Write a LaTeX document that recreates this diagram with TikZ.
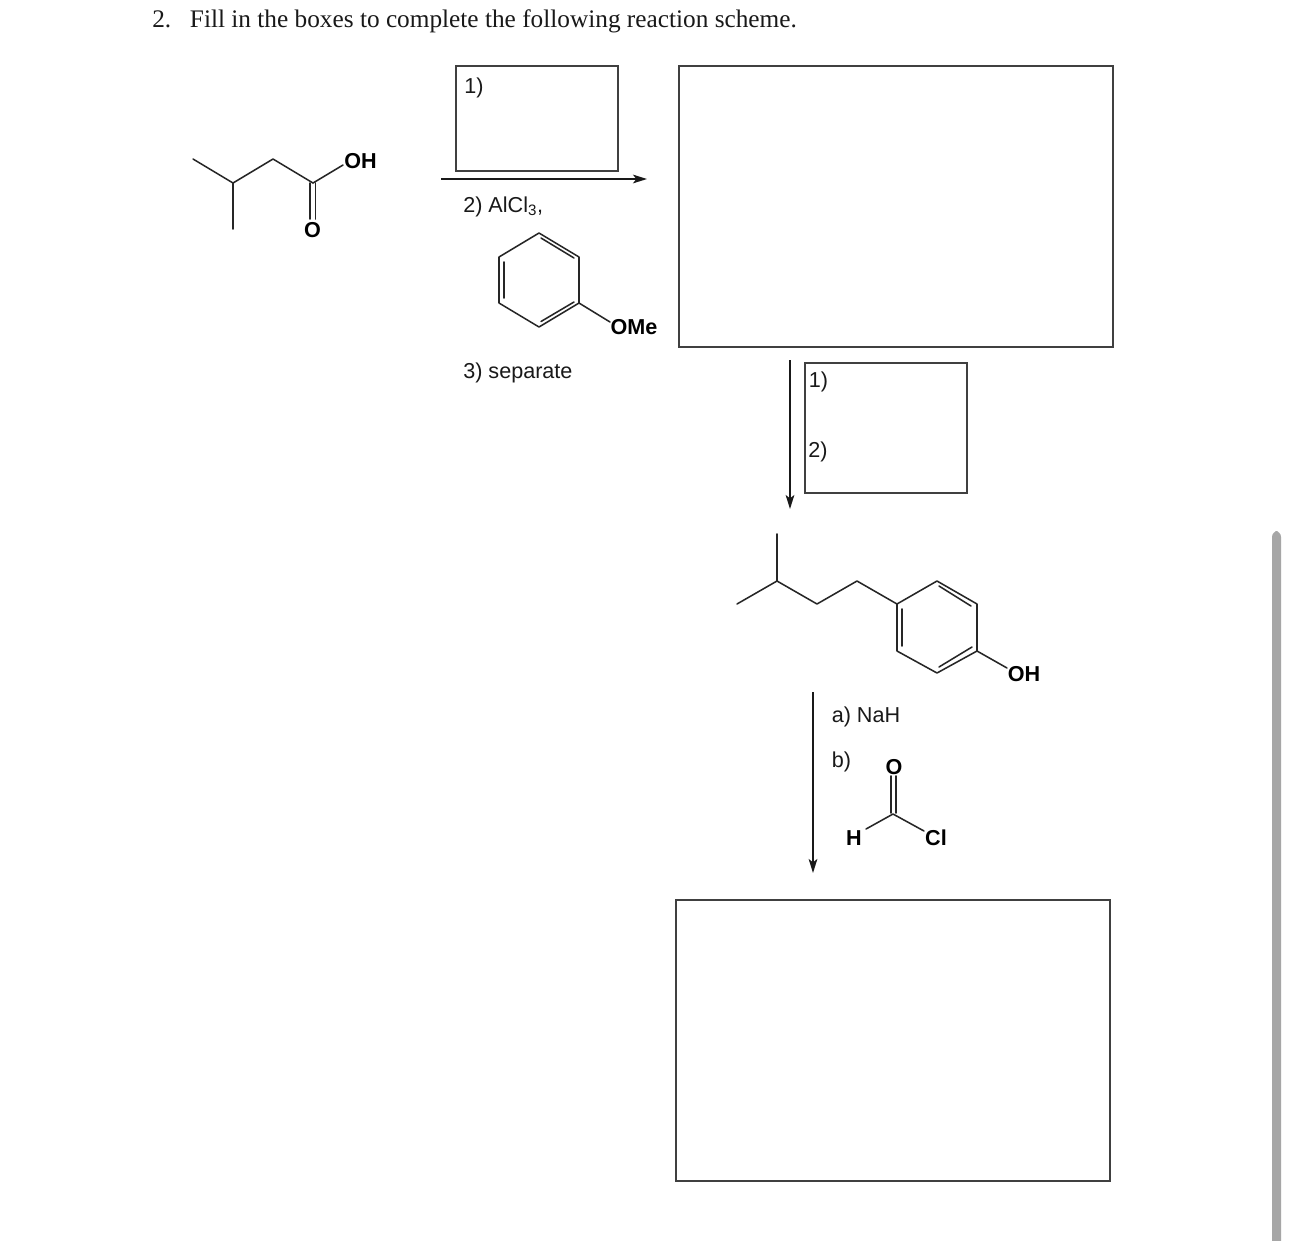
\documentclass[tikz,border=0pt]{standalone}
\usepackage{fontspec}
\setmainfont{Liberation Sans}
\newfontfamily\titlefont{Liberation Serif}
\usetikzlibrary{arrows.meta}
\tikzset{
  x=0.75pt,y=-0.75pt,
  box/.style={draw=black!75,line width=0.95pt},
  bond/.style={draw=black!85,line width=1.15pt,line cap=round,line join=round},
  rxn/.style={draw=black!90,line width=1.3pt,-{Stealth[length=10.5pt,width=6.5pt,inset=2.5pt]}},
  reagent/.style={anchor=base west,inner sep=0pt,font=\fontsize{16.2}{18}\selectfont,text=black!90},
  atom/.style={anchor=center,inner sep=0pt,font=\fontsize{16.2}{18}\selectfont\bfseries,text=black},
  titletext/.style={anchor=base west,inner sep=0pt,font=\titlefont\fontsize{18.97}{22}\selectfont,text=black!90}
}
\begin{document}
\begin{tikzpicture}
\useasboundingbox[fill=white] (0,0) rectangle (1290,1240);
\node[titletext] (title) at (152,27.5) {2.\hspace{0.74em}Fill in the boxes to complete the following reaction scheme.};
% boxes
\draw[box] (456,66) rectangle (618,171);
\draw[box] (679,66) rectangle (1113,347);
\draw[box] (805,363) rectangle (967,493);
\draw[box] (676,900) rectangle (1110,1181);
% reagents
\node[reagent] (r1) at (464,93) {1)};
\node[reagent] (r2) at (463,212) {2) AlCl\textsubscript{3},};
\node[reagent] (r3) at (463,378) {3) separate};
\node[reagent] (s1) at (808.5,387) {1)};
\node[reagent] (s2) at (808,457) {2)};
\node[reagent] (na) at (831.5,722) {a) NaH};
\node[reagent] (nb) at (831.5,767) {b)};
% arrows
\coordinate (a1s) at (441,179); \coordinate (a1e) at (647,179);
\coordinate (a2s) at (790,360); \coordinate (a2e) at (790,509);
\coordinate (a3s) at (813,692); \coordinate (a3e) at (813,873);
\draw[rxn] (a1s) -- (a1e);
\draw[rxn] (a2s) -- (a2e);
\draw[rxn] (a3s) -- (a3e);
% acid
\node[atom] (acidOH) at (360.5,161) {OH};
\node[atom] (acidO) at (312.5,230.5) {O};
\coordinate (m1) at (193,159); \coordinate (m2) at (233,229); \coordinate (ch) at (233,183);
\coordinate (ch2) at (273,159); \coordinate (co) at (313,183);
\draw[bond] (m1) -- (ch) -- (ch2) -- (co);
\draw[bond] (m2) -- (ch);
\draw[bond] (co) -- (343,165);
\draw[bond] (310,183) -- (310,219);
\draw[bond] (315.5,183) -- (315.5,219);
% anisole
\node[atom] (ome) at (634,327) {OMe};
\coordinate (an1) at (539,233); \coordinate (an2) at (579,257); \coordinate (an3) at (579,303);
\coordinate (an4) at (539,327); \coordinate (an5) at (499,303); \coordinate (an6) at (499,257);
\draw[bond] (an1) -- (an2) -- (an3) -- (an4) -- (an5) -- (an6) -- cycle;
\draw[bond] (541,238) -- (574,258);
\draw[bond] (541,321.5) -- (574,302);
\draw[bond] (504,262) -- (504,298);
\draw[bond] (an3) -- (610,322);
% phenol
\node[atom] (phoh) at (1024,674) {OH};
\coordinate (p1) at (777,534); \coordinate (p2) at (777,581); \coordinate (p3) at (737,604);
\coordinate (p4) at (817,604); \coordinate (p5) at (857,581);
\coordinate (q1) at (897,604); \coordinate (q2) at (937,581); \coordinate (q3) at (977,604);
\coordinate (q4) at (977,651); \coordinate (q5) at (937,673); \coordinate (q6) at (897,651);
\draw[bond] (p1) -- (p2);
\draw[bond] (p3) -- (p2) -- (p4) -- (p5) -- (q1);
\draw[bond] (q1) -- (q2) -- (q3) -- (q4) -- (q5) -- (q6) -- cycle;
\draw[bond] (902,609) -- (902,646);
\draw[bond] (939,586) -- (971,606);
\draw[bond] (939,667) -- (972,647);
\draw[bond] (q4) -- (1007,668);
% formyl chloride
\node[atom] (fo) at (894,767) {O};
\node[atom] (fh) at (854,838) {H};
\node[atom] (fcl) at (936,838) {Cl};
\coordinate (fc) at (893,814);
\draw[bond] (891,776) -- (891,813);
\draw[bond] (896,776) -- (896,813);
\draw[bond] (866,829) -- (fc) -- (924,831);
% scrollbar
\fill[black!35,rounded corners=4.5] (1272,1250) -- (1272,531) -- (1281,531) -- (1281,1250) -- cycle;
\end{tikzpicture}
\end{document}
